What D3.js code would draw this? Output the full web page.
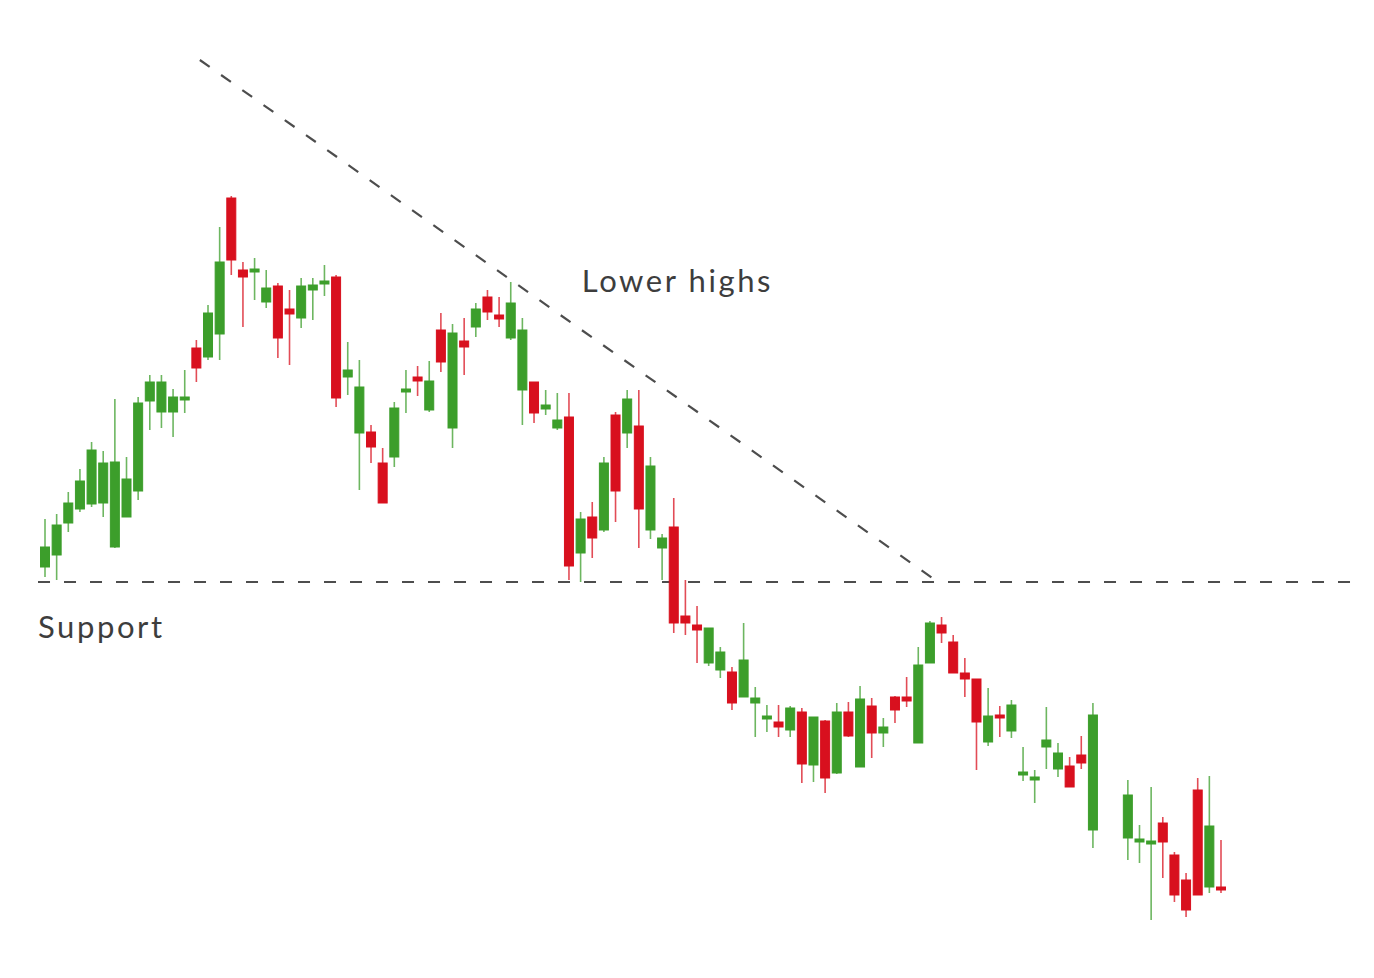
<!DOCTYPE html>
<html>
<head>
<meta charset="utf-8">
<script src="https://cdn.jsdelivr.net/npm/d3@7"></script>
<style>
  html, body { margin: 0; padding: 0; background: #fff; }
  svg { display: block; }
</style>
</head>
<body>
<svg class="chart"></svg>
<script>
// candle slot (trading day), 2 empty slots before the last group
const days = [
  0, 1, 2, 3, 4, 5, 6, 7, 8, 9, 10, 11, 12, 13, 14, 15, 16, 17, 18, 19,
  20, 21, 22, 23, 24, 25, 26, 27, 28, 29, 30, 31, 32, 33, 34, 35, 36, 37, 38, 39,
  40, 41, 42, 43, 44, 45, 46, 47, 48, 49, 50, 51, 52, 53, 54, 55, 56, 57, 58, 59,
  60, 61, 62, 63, 64, 65, 66, 67, 68, 69, 70, 71, 72, 73, 74, 75, 76, 77, 78, 79,
  80, 81, 82, 83, 84, 85, 86, 87, 88, 89, 90, 93, 94, 95, 96, 97, 98, 99, 100, 101
];
const opens = [
  433, 445, 477, 491, 496, 497, 453, 483, 509, 599, 588, 588, 600, 652, 643, 666, 802, 730, 728, 698,
  714, 691, 682, 710, 717, 723, 623, 567, 568, 537, 543, 609, 623, 590, 670, 572, 659, 673, 703, 685,
  662, 610, 618, 591, 572, 583, 447, 483, 470, 585, 567, 574, 470, 452, 473, 384, 375, 337, 330, 328,
  303, 297, 282, 278, 270, 288, 235, 279, 227, 288, 233, 294, 267, 303, 303, 257, 337, 375, 358, 327,
  321, 258, 285, 269, 226, 221, 253, 231, 234, 245, 170, 162, 159, 157, 177, 145, 120, 210, 113, 113
];
const highs = [
  481, 486, 508, 531, 558, 549, 601, 543, 603, 625, 625, 611, 630, 660, 695, 773, 804, 738, 742, 730,
  717, 710, 722, 722, 735, 725, 658, 640, 575, 552, 598, 630, 634, 639, 687, 676, 682, 697, 710, 703,
  718, 682, 618, 610, 607, 607, 488, 498, 543, 588, 610, 610, 543, 466, 502, 420, 394, 372, 353, 333,
  377, 313, 295, 295, 294, 292, 283, 280, 297, 298, 314, 302, 282, 304, 323, 353, 379, 383, 365, 342,
  321, 312, 294, 300, 253, 230, 293, 257, 243, 264, 297, 220, 175, 213, 183, 148, 127, 222, 224, 160
];
const lows = [
  423, 420, 468, 488, 493, 483, 452, 483, 500, 570, 572, 563, 587, 618, 640, 640, 725, 673, 700, 692,
  642, 635, 672, 680, 704, 593, 605, 510, 537, 497, 533, 587, 604, 588, 628, 552, 625, 663, 680, 673,
  660, 575, 577, 585, 570, 420, 418, 442, 468, 478, 552, 452, 461, 420, 367, 365, 337, 334, 322, 290,
  303, 263, 268, 263, 263, 217, 218, 207, 226, 263, 233, 242, 253, 277, 293, 257, 337, 357, 327, 303,
  230, 254, 263, 262, 219, 197, 231, 223, 213, 231, 152, 140, 137, 80, 122, 98, 83, 105, 107, 107
];
const closes = [
  453, 475, 497, 519, 550, 537, 538, 521, 597, 618, 618, 603, 603, 632, 687, 738, 740, 723, 731, 712,
  662, 686, 714, 715, 719, 602, 630, 613, 553, 497, 592, 611, 619, 619, 638, 667, 653, 691, 688, 681,
  697, 670, 587, 595, 580, 434, 481, 462, 537, 509, 601, 491, 534, 462, 377, 377, 370, 372, 348, 297,
  340, 302, 284, 273, 292, 236, 283, 222, 288, 264, 301, 267, 273, 290, 299, 335, 377, 367, 327, 321,
  278, 284, 283, 295, 228, 223, 260, 247, 213, 237, 285, 205, 161, 159, 158, 105, 90, 105, 174, 110
];

// dashed guide lines, [day, price]
const resistance = [[13.3, 940], [76.2, 422]];
const support = [[-0.6, 418], [112.1, 418]];
const labels = [
  { text: "Lower highs", day: 46.1, price: 708 },
  { text: "Support", day: -0.6, price: 362 }
];

const width = 1374;
const height = 978;
const upColor = "#3c9e2b";
const downColor = "#d8101e";
const lineColor = "#4d4d4d";

const candles = days.map((d, i) => ({
  day: d, open: opens[i], high: highs[i], low: lows[i], close: closes[i]
}));

const svg = d3.select(".chart")
  .attr("width", width)
  .attr("height", height);

const x = d3.scaleLinear()
  .domain([0, 101])
  .range([45, 1221]);

const y = d3.scaleLinear()
  .domain([0, 1000])
  .range([1000, 0]);

const bodyWidth = 9;

const line = d3.line()
  .x(d => x(d[0]))
  .y(d => y(d[1]));

[resistance, support].forEach(pts => {
  svg.append("path")
    .attr("d", line(pts))
    .attr("fill", "none")
    .attr("stroke", lineColor)
    .attr("stroke-width", 2.2)
    .attr("stroke-dasharray", "12 14");
});

const candle = svg.selectAll(".candle")
  .data(candles)
  .enter()
  .append("g")
  .attr("class", "candle")
  .attr("fill", d => d.close >= d.open ? upColor : downColor)
  .attr("stroke", d => d.close >= d.open ? upColor : downColor);

candle.append("line")
  .attr("x1", d => x(d.day))
  .attr("x2", d => x(d.day))
  .attr("y1", d => y(d.high))
  .attr("y2", d => y(d.low))
  .attr("stroke-width", 1.6)
  .attr("stroke-opacity", 0.75);

candle.append("rect")
  .attr("x", d => x(d.day) - bodyWidth / 2)
  .attr("y", d => y(Math.max(d.open, d.close)))
  .attr("width", bodyWidth)
  .attr("height", d => Math.max(3, Math.abs(y(d.open) - y(d.close))))
  .attr("stroke-width", 1);

svg.selectAll(".label")
  .data(labels)
  .enter()
  .append("text")
  .attr("class", "label")
  .attr("x", d => x(d.day))
  .attr("y", d => y(d.price))
  .attr("fill", "#3d3d3d")
  .style("font-family", "Lato, 'Open Sans', sans-serif")
  .style("font-size", "31px")
  .style("letter-spacing", "2.6px")
  .text(d => d.text);
</script>
</body>
</html>
